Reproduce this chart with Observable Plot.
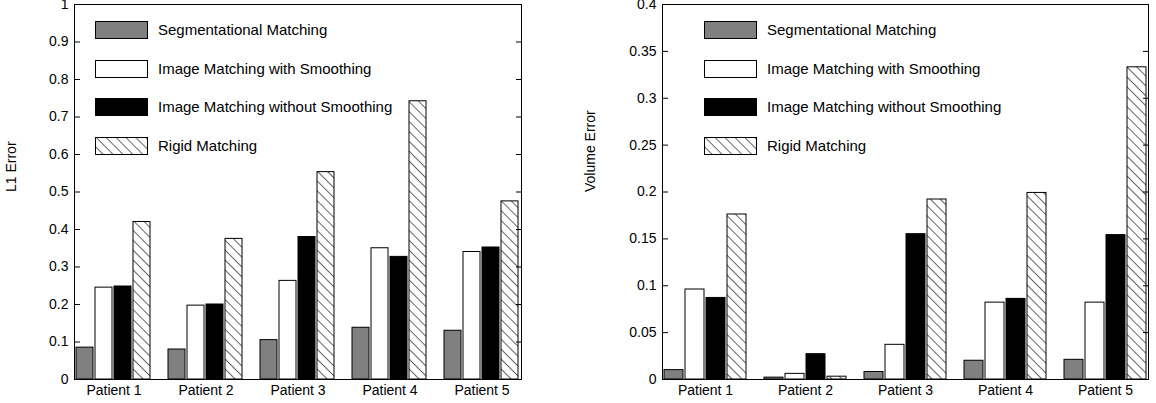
<!DOCTYPE html>
<html><head><meta charset="utf-8">
<script src="https://cdn.jsdelivr.net/npm/d3@7"></script>
<script src="https://cdn.jsdelivr.net/npm/@observablehq/plot@0.6"></script>
<style>
body{margin:0;background:#fff;font-family:"Liberation Sans",Arial,sans-serif}
#wrap{position:relative;width:1156px;height:403px}
.chart{position:absolute;top:0}
.leg{position:absolute;font-size:15px}
.leg div{position:absolute;white-space:nowrap;height:18px;line-height:18px}
.leg svg{position:absolute;left:0;top:0}
.leg span{position:absolute;left:63px}
</style></head><body>
<svg width="0" height="0" style="position:absolute"><defs>
<pattern id="hatch" patternUnits="userSpaceOnUse" width="7" height="7" patternTransform="rotate(-45)">
<rect width="7" height="7" fill="white"/><line x1="0" y1="0" x2="0" y2="7" stroke="black" stroke-width="1.2"/></pattern>
</defs></svg>
<div id="wrap"></div>
<script>
const patients = ["Patient 1","Patient 2","Patient 3","Patient 4","Patient 5"];
const methods = ["Segmentational Matching","Image Matching with Smoothing","Image Matching without Smoothing","Rigid Matching"];
const l1Seg = [0.085,0.08,0.105,0.138,0.13];
const l1Smooth = [0.245,0.197,0.263,0.35,0.34];
const l1NoSmooth = [0.248,0.2,0.38,0.327,0.352];
const l1Rigid = [0.42,0.375,0.553,0.742,0.475];
const volSeg = [0.01,0.002,0.008,0.02,0.021];
const volSmooth = [0.096,0.006,0.037,0.082,0.082];
const volNoSmooth = [0.087,0.027,0.155,0.086,0.154];
const volRigid = [0.176,0.003,0.192,0.199,0.333];
const l1Ticks = d3.range(0,1.0001,0.1).map(v=>+v.toFixed(1));
const volTicks = d3.range(0,0.4001,0.05).map(v=>+v.toFixed(2));
const fills = ["#808080","white","black","url(#hatch)"];

function rows(series){
  const out=[];
  patients.forEach((p,i)=>series.forEach((s,j)=>out.push({patient:p,method:methods[j],value:s[i]})));
  return out;
}
function chart(data, ticks, label, fmt, left, mL, mR, legOff){
  const svg = Plot.plot({
    width:578, height:403, marginTop:4, marginBottom:24, marginLeft:mL, marginRight:mR,
    style:{fontFamily:"Liberation Sans, Arial, sans-serif", fontSize:"14px", color:"black", overflow:"visible"},
    fx:{domain:patients, padding:0.14, label:null, axis:null},
    x:{domain:methods, padding:0.08, axis:null},
    y:{domain:[0,ticks[ticks.length-1]]},
    color:{domain:methods, range:fills},
    marks:[
      Plot.barY(data,{fx:"patient",x:"method",y:"value",fill:"method",stroke:"black",strokeWidth:1}),
      Plot.frame({stroke:"black", facet:"super"}),
      Plot.axisY({ticks, tickSize:-6, tickFormat:fmt, label:null, tickPadding:12, fontSize:14}),
      Plot.axisY({ticks, tickSize:-6, anchor:"right", tickFormat:()=>"", label:null}),
      Plot.axisFx({anchor:"bottom", tickSize:0, fontSize:14, tickPadding:6, label:null}),
      Plot.text([label],{frameAnchor:"left", dx:-mL+10, rotate:-90, fontSize:14, facet:"super"})
    ]
  });
  svg.classList.add("chart");
  svg.style.left = left+"px";
  document.getElementById("wrap").appendChild(svg);
  const leg = document.createElement("div");
  leg.className="leg"; leg.style.left=(left+mL+legOff)+"px"; leg.style.top="21px";
  methods.forEach((m,i)=>{
    const d=document.createElement("div"); d.style.top=(i*38.7)+"px";
    d.innerHTML=`<svg width="53" height="18"><rect x="0.5" y="0.5" width="52" height="17" fill="${fills[i]}" stroke="black"/></svg><span>${m}</span>`;
    leg.appendChild(d);
  });
  document.getElementById("wrap").appendChild(leg);
}
chart(rows([l1Seg,l1Smooth,l1NoSmooth,l1Rigid]), l1Ticks, "L1 Error", d=>d===0||d===1?String(d):d3.format(".1f")(d), 0, 73, 56, 22);
chart(rows([volSeg,volSmooth,volNoSmooth,volRigid]), volTicks, "Volume Error", d=>String(+d.toFixed(2)), 578, 82, 6, 44);
</script></body></html>
